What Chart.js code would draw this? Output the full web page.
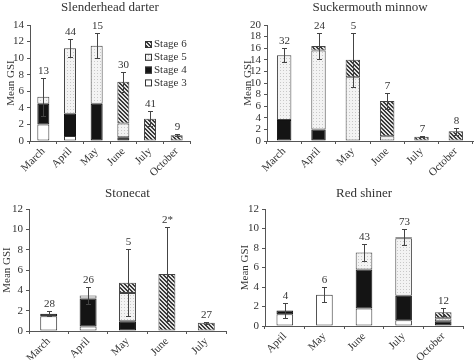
<!DOCTYPE html>
<html><head><meta charset="utf-8">
<script src="https://cdn.jsdelivr.net/npm/chart.js@4.4.1/dist/chart.umd.min.js"></script>
<style>
html,body{margin:0;padding:0;background:#fff;}
#wrap{position:relative;width:474px;height:360px;overflow:hidden;background:#fff;}
canvas{position:absolute;}
</style></head><body><div id="wrap">
<canvas id="c1" width="237" height="180" style="left:0;top:0"></canvas>
<canvas id="c2" width="237" height="180" style="left:237px;top:0"></canvas>
<canvas id="c3" width="237" height="180" style="left:0;top:180px"></canvas>
<canvas id="c4" width="237" height="180" style="left:237px;top:180px"></canvas>
</div>
<script>
// ---- Data ----
const stageNames = ['Stage 3','Stage 4','Stage 5','Stage 6'];

const sdTitle = 'Slenderhead darter';
const sdMonths = ['March','April','May','June','July','October'];
const sdStage3 = [2.0, 0.6, 0, 0, 0, 0];
const sdStage4 = [2.5, 2.7, 4.5, 0.45, 0, 0];
const sdStage5 = [0.85, 7.9, 7.0, 1.65, 0, 0];
const sdStage6 = [0, 0, 0, 5.05, 2.7, 0.7];
const sdErr = [2.3, 1.1, 1.5, 1.2, 0.9, 0.1];
const sdN = ['13','44','15','30','41','9'];
const sdMax = 14;

const smTitle = 'Suckermouth minnow';
const smMonths = ['March','April','May','June','July','October'];
const smStage3 = [0, 0, 0, 0, 0, 0];
const smStage4 = [3.6, 2.0, 0, 0, 0, 0];
const smStage5 = [11.2, 13.6, 11.0, 0.8, 0, 0];
const smStage6 = [0, 0.8, 3.0, 6.1, 0.75, 1.7];
const smErr = [1.2, 2.2, 4.7, 1.4, 0.1, 0.6];
const smN = ['32','24','5','7','7','8'];
const smMax = 20;

const scTitle = 'Stonecat';
const scMonths = ['March','April','May','June','July'];
const scStage3 = [1.45, 0.45, 0, 0, 0];
const scStage4 = [0.25, 2.75, 0.95, 0, 0];
const scStage5 = [0, 0.3, 2.8, 0, 0];
const scStage6 = [0, 0, 1.0, 5.6, 0.8];
const scErr = [0.25, 0.85, 3.3, 4.6, 0.1];
const scN = ['28','26','5','2*','27'];
const scMax = 12;

const rsTitle = 'Red shiner';
const rsMonths = ['April','May','June','July','October'];
const rsStage3 = [1.2, 3.2, 1.8, 0.6, 0];
const rsStage4 = [0.4, 0, 4.0, 2.5, 0.5];
const rsStage5 = [0, 0, 1.75, 5.9, 0.3];
const rsStage6 = [0, 0, 0, 0.1, 0.6];
const rsErr = [0.75, 0.75, 0.85, 0.8, 0.4];
const rsN = ['4','6','43','73','12'];
const rsMax = 12;

// ---- Styling ----
const FONT = '"Liberation Serif", "Times New Roman", serif';
const TXT = '#333';
const AX = '#555';

function hatch(){
  const c = document.createElement('canvas'); c.width = 4; c.height = 4;
  const g = c.getContext('2d');
  g.fillStyle = '#e2e2e2'; g.fillRect(0,0,4,4);
  g.fillStyle = '#3a3a3a';
  for(let i=0;i<4;i++){ g.fillRect(i, i, 1, 1); g.fillRect((i+1)%4, i, 1, 1); }
  return g.createPattern(c, 'repeat');
}
function stipple(){
  const c = document.createElement('canvas'); c.width = 3; c.height = 3;
  const g = c.getContext('2d');
  g.fillStyle = '#f3f3f3'; g.fillRect(0,0,3,3);
  g.fillStyle = '#c8c8c8'; g.fillRect(1,1,1,1);
  return g.createPattern(c, 'repeat');
}
const fills = ['#ffffff', '#141414', stipple(), hatch()];
const borders = ['#333', '#111', '#444', '#444'];

function makePanel(id, box, title, months, stages, err, nLabels, yMax, barPct, yTitlePad, titleY, legend){
  const [cl, ct, al, at, ar, ab] = box; // canvas left/top, area left/top/right/bottom
  const W = 237, H = 180;
  const plug = {
    id: 'extras' + id,
    afterDatasetsDraw(chart){
      const {ctx, scales:{x, y}, chartArea} = chart;
      ctx.save();
      for(let i=0;i<months.length;i++){
        let tot = 0; stages.forEach(s => tot += s[i]);
        const e = err[i];
        const px = Math.round(x.getPixelForValue(i)) + 0.5;
        const yt = Math.round(y.getPixelForValue(tot + e)) + 0.5;
        const yb = Math.round(y.getPixelForValue(Math.max(tot - e, 0))) + 0.5;
        ctx.strokeStyle = '#444'; ctx.lineWidth = 1;
        ctx.beginPath();
        ctx.moveTo(px, yt); ctx.lineTo(px, yb);
        ctx.moveTo(px-2.5, yt); ctx.lineTo(px+2.5, yt);
        ctx.moveTo(px-2.5, yb); ctx.lineTo(px+2.5, yb);
        ctx.stroke();
        ctx.fillStyle = TXT; ctx.font = '11px ' + FONT;
        ctx.textAlign = 'center'; ctx.textBaseline = 'bottom';
        ctx.fillText(nLabels[i], px, yt - 2);
      }
      // title
      ctx.fillStyle = TXT; ctx.font = '13px ' + FONT;
      ctx.textAlign = 'center'; ctx.textBaseline = 'middle';
      ctx.fillText(title, (chartArea.left + chartArea.right)/2, titleY);
      if(legend){
        const [lx, ly, step] = legend;
        ctx.font = '11px ' + FONT; ctx.textAlign = 'left'; ctx.textBaseline = 'middle';
        for(let k=0;k<4;k++){
          const si = 3 - k;
          const yy = ly + k*step;
          ctx.fillStyle = fills[si];
          ctx.fillRect(lx, yy-3, 7, 7);
          ctx.strokeStyle = '#333'; ctx.lineWidth = 1;
          ctx.strokeRect(lx+0.5, yy-2.5, 6, 6);
          ctx.fillStyle = TXT;
          ctx.fillText(stageNames[si], lx + 9, yy + 0.5);
        }
      }
      ctx.restore();
    }
  };
  return new Chart(document.getElementById(id), {
    type: 'bar',
    data: {
      labels: months,
      datasets: stages.map((s, k) => ({
        label: stageNames[k], data: s,
        backgroundColor: fills[k], borderColor: borders[k],
        borderWidth: 1, borderSkipped: false,
        barPercentage: barPct, categoryPercentage: 1.0
      }))
    },
    options: {
      responsive: false, animation: false, devicePixelRatio: 1,
      layout: { padding: { left: 0, top: at - ct, right: (cl + W) - ar, bottom: 0 } },
      plugins: { legend: { display: false }, tooltip: { enabled: false }, title: { display: false } },
      scales: {
        x: {
          stacked: true,
          afterFit: s => { s.height = (ct + H) - ab; },
          grid: { display: true, drawOnChartArea: false, drawTicks: true, tickLength: 3, color: AX, offset: true },
          border: { display: true, color: AX, width: 1 },
          ticks: { color: TXT, font: { family: FONT, size: 11 }, minRotation: 45, maxRotation: 45, autoSkip: false, padding: 1 }
        },
        y: {
          stacked: true, min: 0, max: yMax,
          afterFit: s => { s.width = al - cl; },
          grid: { display: true, drawOnChartArea: false, drawTicks: true, tickLength: 3, color: AX },
          border: { display: true, color: AX, width: 1 },
          ticks: { stepSize: 2, autoSkip: false, color: TXT, font: { family: FONT, size: 11 }, padding: 3 },
          title: { display: true, text: 'Mean GSI', color: TXT, font: { family: FONT, size: 11 }, padding: { top: yTitlePad, bottom: 0 } }
        }
      }
    },
    plugins: [plug]
  });
}

makePanel('c1', [0, 0, 30, 25, 190, 141], sdTitle, sdMonths,
  [sdStage3, sdStage4, sdStage5, sdStage6], sdErr, sdN, sdMax, 0.45, 5, 8, [145, 44, 12.8]);
makePanel('c2', [237, 0, 267, 25, 473, 141], smTitle, smMonths,
  [smStage3, smStage4, smStage5, smStage6], smErr, smN, smMax, 0.42, 5, 8, null);
makePanel('c3', [0, 180, 29, 209, 226, 331], scTitle, scMonths,
  [scStage3, scStage4, scStage5, scStage6], scErr, scN, scMax, 0.43, 0.5, 14, null);
makePanel('c4', [237, 180, 265, 209, 463, 326], rsTitle, rsMonths,
  [rsStage3, rsStage4, rsStage5, rsStage6], rsErr, rsN, rsMax, 0.42, 1.5, 14, null);
</script></body></html>
